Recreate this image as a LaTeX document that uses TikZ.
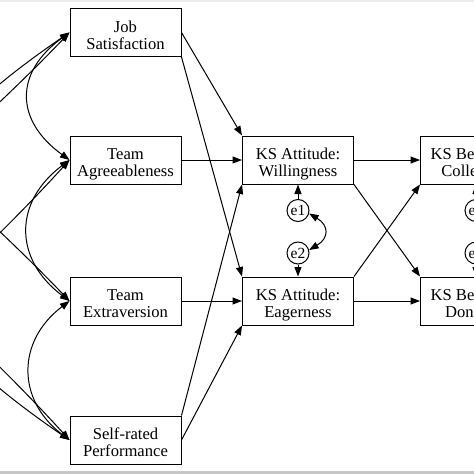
\documentclass[tikz,border=0pt]{standalone}
\usepackage{fontspec}
\setmainfont{Liberation Serif}
\usetikzlibrary{arrows.meta}

\begin{document}
\begin{tikzpicture}[node distance=172.5pt, line width=1pt,
    >={Triangle[length=9.5pt,width=7pt]},
    var/.style={rectangle,draw,align=center,minimum width=111pt,minimum height=48pt,
      inner sep=2pt,text height=33pt,text depth=0pt,font=\fontsize{16.6}{17}\selectfont},
    err/.style={circle,draw,inner sep=1pt,minimum size=22pt,font=\fontsize{15.5}{16}\selectfont}]
	\useasboundingbox (0,0) rectangle (474pt,-474pt);
	\clip (0,0) rectangle (474pt,-474pt);
	\fill[white] (0,0) rectangle (474pt,-474pt);
	\fill[gray!15] (0,0) rectangle (474pt,-1.5pt);
	\fill[gray!45] (0,-471pt) rectangle (474pt,-474pt);

	\node[var] (js)                                       at (125.5pt,-32.5pt) {Job\\Satisfaction};
	\node[var] (ta)    [node distance=127.5pt, below of=js]    {Team\\Agreeableness};
	\node[var] (te)    [node distance=141pt, below of=ta]      {Team\\Extraversion};
	\node[var] (sp)    [node distance=139pt, below of=te]      {Self-rated\\Performance};
	\node[var] (will)  [right of=ta]                           {KS Attitude:\\Willingness};
	\node[var] (eager) [right of=te]                           {KS Attitude:\\Eagerness};
	\node[var] (coll)  [node distance=178pt, right of=will]    {KS Behavior:\\Collecting};
	\node[var] (don)   [node distance=178pt, right of=eager]   {KS Behavior:\\Donating};
	\node[err] (e1)    [node distance=50.5pt, below of=will]   {e1};
	\node[err] (e2)    [node distance=48pt, above of=eager]    {e2};
	\node[err] (e3)    [node distance=50.5pt, below of=coll]   {e3};
	\node[err] (e4)    [node distance=48pt, above of=don]      {e4};

	\path[->] (js.east)         edge (will.north west)
	          (js.south east)   edge (eager.north west)
	          (ta)              edge (will)
	          (te)              edge (eager)
	          (sp.north east)   edge (will.south west)
	          (sp.east)         edge (eager.south west)
	          (will)            edge (coll)
	          (will.south east) edge (don.north west)
	          (eager.north east) edge (coll.south west)
	          (eager)           edge (don)
	          (e1)              edge (will)
	          (e2)              edge (eager)
	          (e3)              edge (coll)
	          (e4)              edge (don);

	% covariances
	\draw[<->] (js.west) .. controls +(-55pt,-40pt) and +(-55pt,40pt) .. (ta.west);
	\draw[<->] (ta.west) .. controls +(-56pt,-42pt) and +(-56pt,42pt) .. (te.west);
	\draw[<->] (te.west) .. controls +(-53pt,-40pt) and +(-53pt,40pt) .. (sp.west);
	\draw[<->] (js.west) .. controls +(-160pt,-167pt) and +(-160pt,167pt) .. (te.west);
	\draw[<->] (ta.west) .. controls +(-160pt,-176pt) and +(-160pt,176pt) .. (sp.west);
	\draw[<->] (js.west) .. controls +(-220pt,-150pt) and +(-220pt,150pt) .. (sp.west);
	\draw[<->] (e1.-15) .. controls +(20pt,-12pt) and +(20pt,12pt) .. (e2.15);
	\draw[<->] (e3.-15) .. controls +(20pt,-12pt) and +(20pt,12pt) .. (e4.15);
\end{tikzpicture}
\end{document}
